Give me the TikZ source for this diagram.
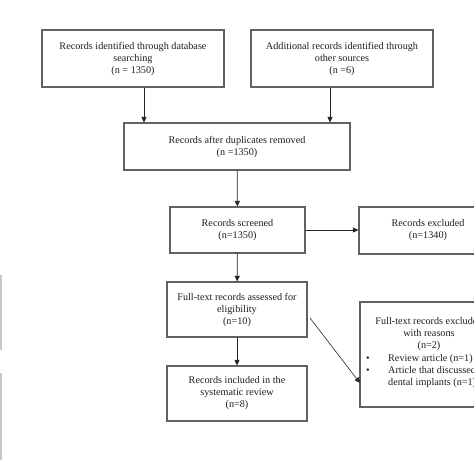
\documentclass[tikz,border=0pt]{standalone}
\usepackage{fontspec}
\setmainfont{Liberation Serif}
\usetikzlibrary{arrows.meta}
\begin{document}
\begin{tikzpicture}[x=1pt,y=-1pt,
  box/.style={draw=black!62, line width=1.1pt, rectangle, inner sep=0pt, align=center,
    text=black!88, font=\fontsize{10.2}{12}\selectfont},
  txt/.style={inner sep=0pt, align=center, text=black!88, font=\fontsize{10.2}{12}\selectfont},
  arr/.style={draw=black!85, line width=0.8pt, -{Triangle[length=5.5pt,width=5pt]}},
  edgebar/.style={draw=black!22, line width=2.5pt}]
\useasboundingbox (0,0) rectangle (474,474);
\clip (0,0) rectangle (474,474);
\fill[white] (0,0) rectangle (474,474);
% cut-off neighbour edges on the left
\draw[edgebar] (1.2,275) -- (1.2,350);
\draw[edgebar] (1.2,373) -- (1.2,460);
% boxes
\node[box, minimum width=182pt, minimum height=57pt] (b1) at (133,58.5)
  {Records identified through database\\searching\\(n = 1350)};
\node[box, minimum width=182pt, minimum height=57pt] (b2) at (342,58.5)
  {Additional records identified through\\other sources\\(n =6)};
\node[box, minimum width=226pt, minimum height=47pt] (b3) at (237,146.5)
  {Records after duplicates removed\\(n =1350)};
\node[box, minimum width=135pt, minimum height=46pt] (b4) at (237.5,230)
  {Records screened\\(n=1350)};
\node[box, minimum width=138pt, minimum height=47pt] (b5) at (428,230.5)
  {Records excluded\\(n=1340)};
\node[box, minimum width=140pt, minimum height=55pt] (b6) at (237,309.5)
  {Full-text records assessed for\\eligibility\\(n=10)};
\node[box, minimum width=140pt, minimum height=55pt] (b7) at (237,393.5)
  {Records included in the\\systematic review\\(n=8)};
\node[box, minimum width=138pt, minimum height=105pt] (b8) at (429,354.5) {};
\node[txt, anchor=north] (t8) at (429,317) {Full-text records excluded\\with reasons\\(n=2)};
\node[txt, anchor=north west, align=left] (l8) at (366,352.5)
  {\begin{tabular}{@{}p{22pt}@{}l@{}}\textbullet & Review article (n=1)\\
   \textbullet & Article that discussed\\ & dental implants (n=1)\end{tabular}};
% connectors
\coordinate (c1) at (144,0);
\coordinate (c2) at (330,0);
\draw[arr] (b1.south -| c1) -- (b3.north -| c1);
\draw[arr] (b2.south -| c2) -- (b3.north -| c2);
\draw[arr] (b3) -- (b4);
\draw[arr] (b4.east) -- (b4.east -| b5.west);
\draw[arr] (b4) -- (b6);
\draw[arr] (b6) -- (b7);
\coordinate (d0) at (310,318);
\coordinate (d1) at (360,383);
\draw[arr, line width=0.6pt] (d0) -- (d1);
\end{tikzpicture}
\end{document}
